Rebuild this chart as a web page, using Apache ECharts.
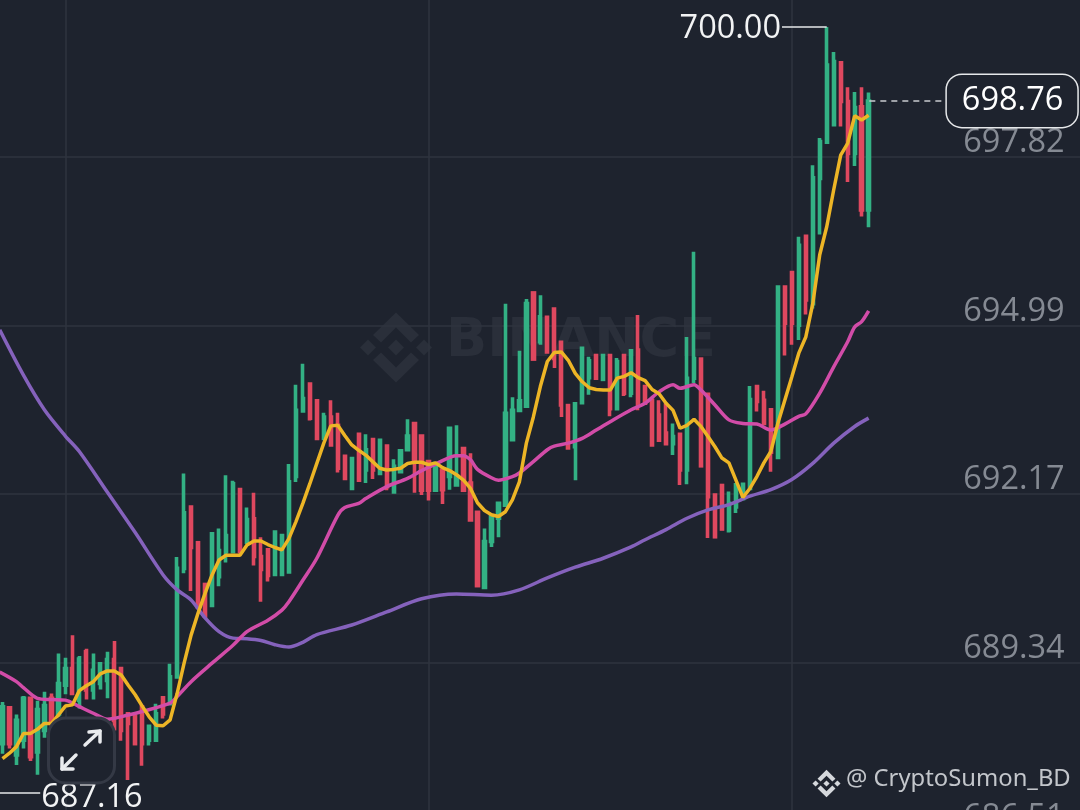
<!DOCTYPE html>
<html>
<head>
<meta charset="utf-8">
<style>html,body{margin:0;padding:0;background:#1e232e;overflow:hidden}#c{width:1080px;height:810px}</style>
<script src="https://cdn.jsdelivr.net/npm/echarts@6/dist/echarts.min.js"></script>
</head>
<body>
<div id="c"></div>
<script>
const opens=[687.98,688.58,687.79,688.04,688.74,687.84,688.20,688.74,688.48,688.96,689.24,688.71,689.52,688.88,688.99,689.04,689.39,689.24,688.48,688.43,688.60,688.04,688.04,688.75,688.65,689.10,690.92,691.95,691.35,690.65,690.30,690.78,691.20,691.20,692.24,691.36,691.75,691.12,691.23,690.82,690.82,690.86,692.46,693.56,694.01,693.73,693.10,693.46,693.32,692.80,692.26,693.17,692.57,693.08,692.51,692.97,692.20,692.54,692.91,693.35,693.14,692.71,692.23,692.57,692.46,692.32,692.93,692.35,691.86,690.60,691.37,691.76,691.98,693.08,693.57,693.64,695.54,694.72,695.13,695.27,694.71,693.65,692.96,693.70,694.12,694.49,694.09,694.49,693.60,694.49,693.86,694.58,693.97,693.74,693.49,693.19,693.01,693.17,692.57,694.11,694.43,693.84,692.15,692.31,691.56,691.95,692.09,692.26,693.97,693.74,693.58,692.78,695.64,695.88,695.00,696.49,695.36,697.46,698.07,698.36,699.40,698.75,697.88,698.66,696.93];
const closes=[688.60,687.98,688.37,688.74,687.76,688.55,688.62,688.34,688.99,689.24,688.82,689.40,688.88,689.21,689.32,689.39,688.37,688.20,688.32,687.98,687.98,688.27,688.48,688.48,689.10,690.92,691.85,691.27,690.27,690.12,691.50,691.22,691.47,692.34,691.20,691.74,691.12,690.90,690.80,691.53,691.47,692.37,693.57,693.77,693.44,693.10,693.46,692.99,692.60,692.43,692.76,692.40,692.91,692.57,693.07,692.29,692.63,692.89,693.14,692.71,692.23,692.23,692.68,692.24,693.27,692.47,692.23,691.73,690.63,691.37,691.79,692.01,693.52,693.57,693.73,695.36,694.43,695.14,694.55,694.44,693.66,692.94,693.68,694.61,694.40,694.11,694.49,693.60,694.39,693.86,694.57,693.66,693.69,692.99,693.07,693.01,693.13,692.57,694.11,694.44,692.64,692.12,691.45,691.58,692.01,692.26,692.33,693.75,693.72,693.35,692.87,695.64,695.03,695.03,696.34,695.42,697.47,698.08,699.36,699.42,698.75,697.88,698.65,696.93,698.76];
const lows=[687.81,687.90,687.62,687.90,687.69,687.46,688.08,687.98,688.43,688.81,688.82,688.57,688.72,688.72,688.89,688.74,688.20,688.03,687.37,687.98,687.61,687.95,688.04,688.40,688.65,689.10,690.84,690.54,690.27,690.12,690.30,690.62,691.02,691.17,691.17,691.36,690.97,690.36,690.70,690.82,690.80,690.86,692.37,693.53,693.40,693.08,693.08,692.99,692.53,692.42,692.24,692.39,692.35,692.42,692.50,692.23,692.20,692.52,692.90,692.19,692.15,692.06,692.22,692.00,692.24,692.32,692.23,691.73,690.63,690.60,691.28,691.44,691.98,693.07,693.56,693.64,694.43,694.67,694.52,694.28,693.46,692.94,692.40,693.69,693.83,694.11,694.09,693.47,693.60,693.81,693.79,693.57,693.66,692.99,693.05,693.01,692.82,692.32,692.33,694.03,692.64,691.43,691.45,691.58,691.52,691.85,692.09,692.26,693.55,693.33,692.54,692.78,694.49,694.67,694.75,695.18,695.28,696.52,698.07,698.36,698.33,697.40,697.67,696.82,696.64];
const highs=[688.68,688.58,688.47,688.78,688.74,688.70,688.85,688.82,689.49,689.42,689.80,689.45,689.57,689.49,689.34,689.52,689.70,689.24,688.48,688.43,688.60,688.27,688.65,688.75,689.32,691.11,692.51,691.95,691.35,690.65,691.53,691.59,692.48,692.39,692.24,691.94,692.19,691.44,691.23,691.56,691.50,692.67,694.00,694.35,694.01,693.73,693.53,693.74,693.53,692.80,692.79,693.17,693.17,693.08,693.09,692.97,692.75,692.90,693.42,693.35,693.14,692.71,692.71,692.57,693.30,693.32,692.93,692.85,691.86,691.59,691.79,692.01,695.36,693.79,694.57,695.44,695.54,695.50,695.13,695.27,694.71,693.65,693.68,694.64,694.47,694.49,694.49,694.49,694.45,694.49,694.57,695.17,693.97,693.74,693.74,693.69,693.35,693.17,694.80,696.23,694.43,693.84,692.15,692.31,692.21,692.35,692.33,693.98,693.97,693.90,693.58,695.64,695.64,695.88,696.48,696.49,697.68,698.14,700.00,699.58,699.40,698.99,698.91,698.99,698.90];
const ma7=[687.73,687.82,687.93,688.15,688.15,688.22,688.32,688.32,688.46,688.61,688.63,688.87,688.95,689.02,689.15,689.20,689.20,689.13,688.96,688.80,688.61,688.43,688.29,688.28,688.38,688.82,689.33,689.80,690.17,690.50,690.81,691.06,691.14,691.14,691.14,691.31,691.38,691.38,691.32,691.27,691.23,691.42,691.70,692.01,692.34,692.68,693.02,693.31,693.32,693.15,692.99,692.90,692.82,692.71,692.60,692.57,692.58,692.60,692.68,692.70,692.70,692.66,692.69,692.61,692.56,692.49,692.40,692.26,692.02,691.89,691.82,691.79,691.87,692.07,692.37,693.02,693.46,693.97,694.39,694.54,694.55,694.41,694.19,694.05,693.95,693.92,693.91,693.91,694.11,694.14,694.20,694.12,694.07,693.92,693.85,693.69,693.57,693.27,693.32,693.42,693.30,693.13,692.96,692.77,692.69,692.40,692.11,692.26,692.46,692.69,692.88,693.35,693.74,694.13,694.53,694.80,695.36,696.18,696.65,697.27,697.85,698.05,698.51,698.44,698.52];
const ma25=[[-0.4,689.18],[2,689.02],[3,688.92],[5,688.74],[7,688.72],[9,688.71],[11,688.60],[13,688.49],[15,688.39],[18,688.46],[20,688.52],[24,688.66],[25,688.77],[27,689.02],[30,689.33],[33,689.63],[35,689.86],[38,690.05],[40,690.22],[41,690.36],[43,690.72],[45,691.09],[48,691.81],[49,691.94],[51,692.01],[52,692.09],[55,692.29],[58,692.43],[60,692.56],[62,692.67],[65,692.81],[66,692.81],[67,692.74],[68,692.58],[70,692.44],[71,692.40],[73,692.46],[74,692.52],[76,692.71],[78,692.91],[79,692.97],[81,693.02],[83,693.10],[85,693.24],[87,693.38],[90,693.58],[92,693.69],[94,693.88],[96,694.00],[97,693.94],[99,694.00],[100,693.91],[102,693.66],[104,693.41],[106,693.35],[108,693.34],[110,693.24],[112,693.34],[114,693.47],[115,693.51],[117,693.86],[119,694.30],[121,694.72],[122,694.97],[123,695.06],[124,695.24]];
const ma99=[[-0.4,694.92],[3,694.16],[6,693.58],[9,693.14],[11,692.88],[15,692.20],[19,691.52],[23,690.81],[25,690.56],[27,690.39],[29,690.09],[31,689.86],[33,689.75],[35,689.74],[37,689.71],[39,689.64],[41,689.60],[43,689.68],[45,689.81],[50,689.97],[55,690.19],[60,690.41],[65,690.49],[70,690.47],[74,690.56],[78,690.76],[82,690.94],[86,691.09],[90,691.28],[92,691.40],[95,691.57],[98,691.76],[101,691.90],[104,691.99],[107,692.13],[110,692.24],[113,692.41],[116,692.68],[119,693.02],[122,693.30],[124,693.44]];
const priceTicks=[686.51,689.34,692.17,694.99,697.82];
const gridTimes=[9,61,113];
const highLabel=700.00, lowLabel=687.16, lastPrice=698.76;
const blankSlots=30;

const BG='#1e232e', GRID='#2f343f', UP='#33b184', DOWN='#df485f';
const categories=[]; for(let i=0;i<opens.length+blankSlots;i++) categories.push(String(i));
const candles=opens.map((o,i)=>[o,closes[i],lows[i],highs[i]]);
const font='Open Sans';

function logo(cx,cy,s,fill,z){
  const poly=(pts)=>({type:'polygon',z:z,silent:true,shape:{points:pts.map(p=>[cx+p[0]*s,cy+p[1]*s])},style:{fill:fill}});
  const dia=(dx)=>poly([[dx,-8],[dx+8,0],[dx,8],[dx-8,0]]);
  return [dia(-28),dia(0),dia(28),
    poly([[0,-35],[23,-12.5],[15,-5],[0,-20],[-15,-5],[-23,-12.5]]),
    poly([[0,35],[23,12.5],[15,5],[0,20],[-15,5],[-23,12.5]])];
}
const arrow=(pts)=>({type:'polyline',z:101,silent:true,shape:{points:pts},style:{stroke:'#e9ebee',lineWidth:3.5,fill:null,lineCap:'round',lineJoin:'round'}});

const chart=echarts.init(document.getElementById('c'),null,{width:1080,height:810});
const lastI=opens.length-1;
chart.setOption({
  animation:false,
  backgroundColor:BG,
  grid:{left:-1,top:0,width:155*6.985,height:840,containLabel:false,outerBoundsMode:'none'},
  xAxis:[
    {type:'category',data:categories,show:false},
    {type:'value',min:-0.5,max:categories.length-0.5,position:'bottom',
      axisLine:{show:false},axisLabel:{show:false},
      axisTick:{show:false,customValues:gridTimes},
      splitLine:{show:true,lineStyle:{color:GRID,width:1.5}}}
  ],
  yAxis:{type:'value',position:'right',min:686.364,max:700.453,scale:true,
    axisLine:{show:false},
    axisTick:{show:false,customValues:priceTicks},
    axisLabel:{inside:true,customValues:priceTicks,margin:17,color:'#858a93',fontFamily:font,fontSize:32.5,
      verticalAlign:'bottom',align:'right',lineHeight:28,formatter:v=>v.toFixed(2)},
    splitLine:{show:true,lineStyle:{color:GRID,width:1.5}}},
  graphic:{elements:[
    ...logo(396,347.5,1,'#2a2f3a',0),
    {type:'text',z:0,silent:true,left:446,top:315,style:{text:'BINANCE',fill:'#2a2f3a',font:'bold 54px "DejaVu Sans"'}},
    {type:'rect',z:100,silent:true,shape:{x:48.5,y:718,width:66,height:65,r:17},style:{fill:BG,stroke:'#343945',lineWidth:3}},
    arrow([[85,745],[100,731]]),arrow([[89,732],[100,731],[100,742]]),
    arrow([[76,755],[62,769]]),arrow([[62,758],[62,769],[73,769]]),
    ...logo(826.5,783.5,0.39,'#d5d8dc',100),
    {type:'text',z:100,silent:true,left:846,top:767,style:{text:'@ CryptoSumon_BD',fill:'#c3c6cb',font:'23.8px "Noto Sans"'}}
  ]},
  series:[
    {type:'candlestick',data:candles,barWidth:1.8,z:3,
      itemStyle:{color:UP,color0:DOWN,borderColor:UP,borderColor0:DOWN,borderWidth:3.6}},
    {type:'line',xAxisIndex:1,data:ma99,showSymbol:false,symbol:'none',smooth:0.3,z:4,lineStyle:{color:'#8562bc',width:3.5},
      markLine:{silent:true,symbol:'none',animation:false,precision:2,
        data:[
          [{coord:[111.6,highLabel],lineStyle:{color:'#e6e8ea',width:1.5,type:'solid'},
            label:{position:'start',distance:1,offset:[0,2],formatter:()=>highLabel.toFixed(2),color:'#f2f3f4',fontFamily:font,fontSize:32.5}},
           {coord:[118,highLabel]}],
          [{coord:[-0.4,lowLabel],lineStyle:{color:'#e6e8ea',width:1.5,type:'solid'},
            label:{position:'end',distance:1,offset:[0,5],formatter:()=>lowLabel.toFixed(2),color:'#f2f3f4',fontFamily:font,fontSize:32.5}},
           {coord:[5.4,lowLabel]}],
          [{coord:[lastI+0.1,lastPrice],lineStyle:{color:'#c9ccd0',width:1.5,type:[6,5]},
            label:{position:'end',distance:0,formatter:()=>lastPrice.toFixed(2),color:'#ffffff',fontFamily:font,fontSize:32.5,
              backgroundColor:BG,borderColor:'#e6e8ea',borderWidth:1.5,borderRadius:15,padding:[10,14,10,15],lineHeight:32}},
           {coord:[135.2,lastPrice]}]
        ]}},
    {type:'line',xAxisIndex:1,data:ma25,showSymbol:false,symbol:'none',smooth:0.3,z:5,lineStyle:{color:'#d24ca8',width:3.5}},
    {type:'line',data:ma7,showSymbol:false,symbol:'none',z:6,lineStyle:{color:'#edb526',width:3.5}}
  ]
});
</script>
</body>
</html>
